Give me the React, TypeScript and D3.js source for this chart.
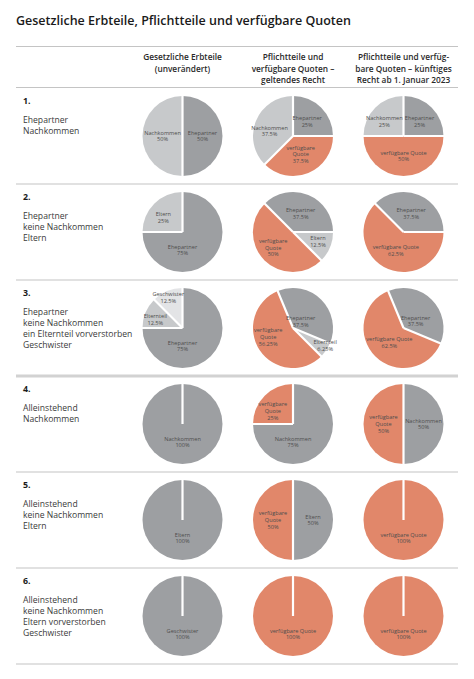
import React from 'react';
import * as d3 from 'd3';

const W = 474;
const H = 679;

const titleText = 'Gesetzliche Erbteile, Pflichtteile und verfügbare Quoten';

const columnHeaders: string[][] = [
  ['Gesetzliche Erbteile', '(unverändert)'],
  ['Pflichtteile und', 'verfügbare Quoten –', 'geltendes Recht'],
  ['Pflichtteile und verfüg-', 'bare Quoten – künftiges', 'Recht ab 1. Januar 2023'],
];

const rowNumbers = ['1.', '2.', '3.', '4.', '5.', '6.'];

const rowDescriptions: string[][] = [
  ['Ehepartner', 'Nachkommen'],
  ['Ehepartner', 'keine Nachkommen', 'Eltern'],
  ['Ehepartner', 'keine Nachkommen', 'ein Elternteil vorverstorben', 'Geschwister'],
  ['Alleinstehend', 'Nachkommen'],
  ['Alleinstehend', 'keine Nachkommen', 'Eltern'],
  ['Alleinstehend', 'keine Nachkommen', 'Eltern vorverstorben', 'Geschwister'],
];

// Heirs of each case, in order of rank (drives the grey tone)
const rowHeirs: string[][] = [
  ['Ehepartner', 'Nachkommen'],
  ['Ehepartner', 'Eltern'],
  ['Ehepartner', 'Elternteil', 'Geschwister'],
  ['Nachkommen'],
  ['Eltern'],
  ['Geschwister'],
];

const QUOTE = 'verfügbare Quote';

type Share = { heir: string; value: number };

// Gesetzliche Erbteile (unverändert)
const sharesLegal: Share[][] = [
  [{ heir: 'Ehepartner', value: 50 }, { heir: 'Nachkommen', value: 50 }],
  [{ heir: 'Ehepartner', value: 75 }, { heir: 'Eltern', value: 25 }],
  [{ heir: 'Ehepartner', value: 75 }, { heir: 'Elternteil', value: 12.5 }, { heir: 'Geschwister', value: 12.5 }],
  [{ heir: 'Nachkommen', value: 100 }],
  [{ heir: 'Eltern', value: 100 }],
  [{ heir: 'Geschwister', value: 100 }],
];

// Pflichtteile und verfügbare Quoten – geltendes Recht
const sharesCurrent: Share[][] = [
  [{ heir: 'Ehepartner', value: 25 }, { heir: QUOTE, value: 37.5 }, { heir: 'Nachkommen', value: 37.5 }],
  [{ heir: 'Ehepartner', value: 37.5 }, { heir: 'Eltern', value: 12.5 }, { heir: QUOTE, value: 50 }],
  [{ heir: 'Ehepartner', value: 37.5 }, { heir: 'Elternteil', value: 6.25 }, { heir: QUOTE, value: 56.25 }],
  [{ heir: 'Nachkommen', value: 75 }, { heir: QUOTE, value: 25 }],
  [{ heir: 'Eltern', value: 50 }, { heir: QUOTE, value: 50 }],
  [{ heir: QUOTE, value: 100 }],
];

// Pflichtteile und verfügbare Quoten – künftiges Recht ab 1. Januar 2023
const sharesFuture: Share[][] = [
  [{ heir: 'Ehepartner', value: 25 }, { heir: QUOTE, value: 50 }, { heir: 'Nachkommen', value: 25 }],
  [{ heir: 'Ehepartner', value: 37.5 }, { heir: QUOTE, value: 62.5 }],
  [{ heir: 'Ehepartner', value: 37.5 }, { heir: QUOTE, value: 62.5 }],
  [{ heir: 'Nachkommen', value: 50 }, { heir: QUOTE, value: 50 }],
  [{ heir: QUOTE, value: 100 }],
  [{ heir: QUOTE, value: 100 }],
];

const columnsData = [sharesLegal, sharesCurrent, sharesFuture];

// Start angle of each pie (degrees, clockwise from 12 o'clock)
const pieRotations: number[][] = [
  [0, 0, 0],
  [0, -45, -45],
  [0, -22.5, -22.5],
  [0, 0, 0],
  [0, 0, 0],
  [0, 0, 0],
];

// Hand-placed slice labels: [angle in degrees, distance as fraction of radius]
const labelSpots: Record<string, [number, number]> = {
  '0-1-Nachkommen': [282, 0.6],
  '0-2-Nachkommen': [307, 0.6],
  '0-2-Ehepartner': [48, 0.54],
  '1-0-Eltern': [307, 0.6],
  '1-1-Eltern': [111, 0.67],
  '1-1-verfügbare Quote': [232, 0.63],
  '2-0-Elternteil': [287, 0.71],
  '2-0-Geschwister': [335, 0.84],
  '2-1-Ehepartner': [50, 0.25],
  '2-1-Elternteil': [119, 0.92],
  '2-1-verfügbare Quote': [250, 0.66],
  '2-2-Ehepartner': [60, 0.35],
  '3-1-verfügbare Quote': [303, 0.6],
};

const R = 40;
const TAU = Math.PI * 2;
const rad = (deg: number) => (deg * Math.PI) / 180;

const colX = d3.scalePoint<number>().domain([0, 1, 2]).range([182.5, 403.5]);
const rowY = d3.scaleBand<number>().domain(d3.range(6)).range([88, 664]);

const greyTone = d3
  .scaleOrdinal<number, string>()
  .domain([0, 1, 2])
  .range(['#9d9fa2', '#c7c9cb', '#e3e4e6']);
const quoteColor = '#e1876a';

const FONT = "'Open Sans', 'Noto Sans', sans-serif";

const pieGen = d3.pie<Share>().value((d) => d.value).sort(null);
const arcGen = d3.arc<d3.PieArcDatum<Share>>().innerRadius(0).outerRadius(R);

function Pie({ row, col }: { row: number; col: number }) {
  const shares = columnsData[col][row];
  const rot = rad(pieRotations[row][col]);
  const arcs = pieGen.startAngle(rot).endAngle(rot + TAU)(shares);
  const cx = colX(col) as number;
  const cy = (rowY(row) as number) + rowY.bandwidth() / 2;
  const heirs = rowHeirs[row];

  return (
    <g transform={`translate(${cx},${cy})`}>
      {arcs.map((a, i) => (
        <path
          key={`s${i}`}
          d={arcGen(a) as string}
          fill={a.data.heir === QUOTE ? quoteColor : greyTone(heirs.indexOf(a.data.heir))}
        />
      ))}
      {arcs.map((a, i) => (
        <line
          key={`b${i}`}
          x1={0}
          y1={0}
          x2={(R + 1) * Math.sin(a.startAngle)}
          y2={-(R + 1) * Math.cos(a.startAngle)}
          stroke="#ffffff"
          strokeWidth={2.2}
        />
      ))}
      {arcs.map((a, i) => {
        const d = a.data;
        const mid = (a.startAngle + a.endAngle) / 2;
        const spot = labelSpots[`${row}-${col}-${d.heir}`];
        let lx: number;
        let ly: number;
        if (spot) {
          lx = spot[1] * R * Math.sin(rad(spot[0]));
          ly = -spot[1] * R * Math.cos(rad(spot[0]));
        } else if (d.value >= 75) {
          lx = 0;
          ly = 0.45 * R;
        } else {
          [lx, ly] = arcGen.centroid(a);
        }
        const midNorm = ((mid % TAU) + TAU) % TAU;
        const wide = d.value >= 62.5 || Math.abs(midNorm - Math.PI) < 0.1;
        const nameLines = d.heir === QUOTE && !wide ? ['verfügbare', 'Quote'] : [d.heir];
        const lines = [...nameLines, `${d.value}%`];
        const lh = 6.8;
        return (
          <text
            key={`t${i}`}
            x={lx}
            y={ly}
            textAnchor="middle"
            fontFamily={FONT}
            fontSize={5.6}
            fill="#4d4d4d"
          >
            {lines.map((t, j) => (
              <tspan key={j} x={lx} y={ly + (j - (lines.length - 1) / 2) * lh + 2}>
                {t}
              </tspan>
            ))}
          </text>
        );
      })}
    </g>
  );
}

export default function App() {
  const rowIdx = d3.range(6);
  const ruleX1 = 16;
  const ruleX2 = 458;
  return (
    <svg
      width={W}
      height={H}
      viewBox={`0 0 ${W} ${H}`}
      style={{ position: 'absolute', left: 0, top: 0, background: '#ffffff' }}
    >
      <rect width={W} height={H} fill="#ffffff" />
      <text x={16} y={25} fontFamily={FONT} fontWeight={600} fontSize={12.5} fill="#1a1a1a">
        {titleText}
      </text>

      <line x1={ruleX1} x2={ruleX2} y1={46.5} y2={46.5} stroke="#c4c4c4" strokeWidth={1.2} />

      {columnHeaders.map((lines, c) => (
        <text
          key={`h${c}`}
          textAnchor="middle"
          fontFamily={FONT}
          fontWeight={600}
          fontSize={8.3}
          fill="#2a2a2a"
        >
          {lines.map((t, j) => (
            <tspan key={j} x={colX(c) as number} y={60 + j * 11.5}>
              {t}
            </tspan>
          ))}
        </text>
      ))}

      <line x1={ruleX1} x2={ruleX2} y1={87.5} y2={87.5} stroke="#c4c4c4" strokeWidth={1.2} />

      {rowIdx.map((r) => {
        const top = rowY(r) as number;
        return (
          <g key={`r${r}`}>
            <text x={23} y={top + 15.5} fontFamily={FONT} fontWeight={700} fontSize={8.8} fill="#1a1a1a">
              {rowNumbers[r]}
            </text>
            <text fontFamily={FONT} fontSize={8.6} fill="#3a3a3a">
              {rowDescriptions[r].map((t, j) => (
                <tspan key={j} x={23} y={top + 34.5 + j * 11.3}>
                  {t}
                </tspan>
              ))}
            </text>
            {[0, 1, 2].map((c) => (
              <Pie key={c} row={r} col={c} />
            ))}
            <line
              x1={ruleX1}
              x2={ruleX2}
              y1={top + rowY.bandwidth()}
              y2={top + rowY.bandwidth()}
              stroke={r === 2 ? '#d2d2d2' : '#c4c4c4'}
              strokeWidth={r === 2 ? 3 : 1.2}
            />
          </g>
        );
      })}
    </svg>
  );
}
